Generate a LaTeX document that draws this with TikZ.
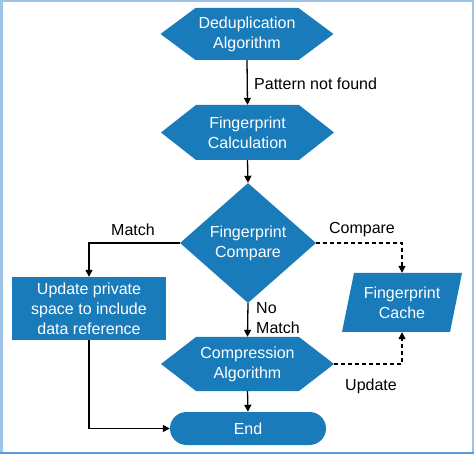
\documentclass[tikz,border=0pt]{standalone}
\usepackage{fontspec}
\setmainfont{Liberation Sans}
\usetikzlibrary{arrows.meta,shapes.geometric,calc}
\definecolor{boxblue}{HTML}{1A7BBA}
\definecolor{framecol}{HTML}{9DC3E6}
\definecolor{framebot}{HTML}{5B9BD5}
\tikzset{
  basetext/.style={font=\fontsize{16}{20}\selectfont, align=center, inner sep=0pt},
  hexbox/.style={basetext, text=white, minimum width=173pt, minimum height=#1,
    path picture={
      \fill[boxblue] (path picture bounding box.west)
        -- ([xshift=35pt]path picture bounding box.north west)
        -- ([xshift=-35pt]path picture bounding box.north east)
        -- (path picture bounding box.east)
        -- ([xshift=-35pt]path picture bounding box.south east)
        -- ([xshift=35pt]path picture bounding box.south west) -- cycle;}},
  decision/.style={basetext, text=white, diamond, fill=boxblue, minimum width=136pt, minimum height=120pt},
  procbox/.style={basetext, text=white, rectangle, fill=boxblue, minimum width=154pt, minimum height=63pt},
  databox/.style={basetext, text=white, minimum width=120pt, minimum height=59pt,
    path picture={
      \fill[boxblue] ([xshift=12pt]path picture bounding box.north west)
        -- (path picture bounding box.north east)
        -- ([xshift=-12pt]path picture bounding box.south east)
        -- (path picture bounding box.south west) -- cycle;}},
  termbox/.style={basetext, text=white, rectangle, rounded corners=16.5pt, fill=boxblue, minimum width=156pt, minimum height=33pt},
  flow/.style={line width=1.3pt, -{Triangle[length=7pt,width=7pt]}},
  dflow/.style={flow, dash pattern=on 4pt off 3pt},
  lbl/.style={basetext, text=black},
}
\begin{document}
\begin{tikzpicture}[x=1pt,y=-1pt]
\useasboundingbox (0,0) rectangle (474,454);
\fill[white] (0,0) rectangle (474,454);
\draw[framecol, line width=2.5pt] (1.25,1.25) rectangle (472.75,452.75);
\draw[framebot, line width=2.5pt] (0,452.75) -- (474,452.75);

\node[hexbox=52pt] (dedup) at (247,34) {Deduplication\\Algorithm};
\node[hexbox=55pt] (fpcalc) at (247.5,132.5) {Fingerprint\\Calculation};
\node[decision] (cmp) at (248,243) {Fingerprint\\Compare};
\node[procbox] (upd) at (89,308.5) {Update private\\space to include\\data reference};
\node[databox] (cache) at (402,302.5) {Fingerprint\\Cache};
\node[hexbox=54pt] (compr) at (247.5,364) {Compression\\Algorithm};
\node[termbox] (end) at (248,428.5) {End};

\draw[flow] (dedup.south) -- (fpcalc.north);
\node[lbl, anchor=west] (lpat) at (254,84) {Pattern not found};
\draw[flow] (fpcalc.south) -- (cmp.north);
\draw[flow] (cmp.west) -| (upd.north);
\node[lbl] (lmatch) at (133,230) {Match};
\draw[dflow] (cmp.east) -| (cache.north);
\node[lbl] (lcmp) at (362,230) {Compare};
\draw[flow] (cmp.south) -- (compr.north);
\node[lbl, anchor=west, align=left] (lnomatch) at (256,318) {No\\Match};
\draw[dflow] (compr.east) -| (cache.south);
\node[lbl] (lupd) at (371,386) {Update};
\draw[flow] (compr.south) -- (end.north);
\draw[flow] (upd.south) |- (end.west);
\end{tikzpicture}
\end{document}
